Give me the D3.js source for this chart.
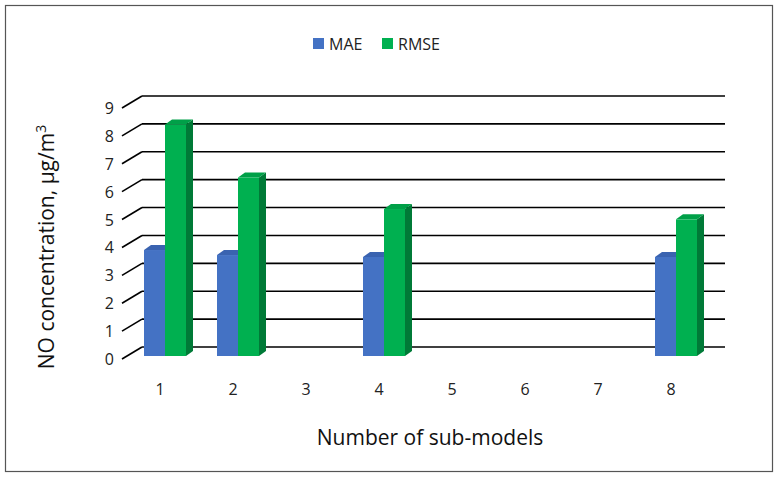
<!DOCTYPE html><html><head><meta charset="utf-8">
<script src="https://cdn.jsdelivr.net/npm/d3@7"></script>
<style>body{margin:0;background:#fff}</style></head><body>
<svg id="c" width="779" height="480"></svg>
<script>
const categories=["1","2","3","4","5","6","7","8"];
const seriesNames=["MAE","RMSE"];
const mae=[3.8,3.62,null,3.55,null,null,null,3.55];
const rmse=[8.3,6.4,null,5.27,null,null,null,4.9];
const yTicks=[0,1,2,3,4,5,6,7,8,9];
const colors={MAE:["#4472C4","#2F5597","#3A63B0"],RMSE:["#00B050","#007A37","#00A048"]};
const svg=d3.select("#c");
const font="'Open Sans', 'Liberation Sans', Arial, sans-serif";
svg.append("rect").attr("x",5.5).attr("y",5.5).attr("width",767).attr("height",466).attr("fill","#fff").attr("stroke","#555").attr("stroke-width",1.2);
const x=d3.scaleBand().domain(categories).range([123.5,707.5]);
const yBack=d3.scaleLinear().domain([0,9]).range([347,96]);
const yBar=d3.scaleLinear().domain([0,9]).range([356,105]);
const dx=20,dy=12;
const g=svg.append("g");
yTicks.forEach(t=>{
  const yy=yBack(t);
  g.append("line").attr("x1",142).attr("x2",725).attr("y1",yy).attr("y2",yy).attr("stroke","#000").attr("stroke-width",1.6);
  g.append("line").attr("x1",142).attr("x2",142-dx).attr("y1",yy).attr("y2",yy+dy).attr("stroke","#000").attr("stroke-width",1.6);
  g.append("text").attr("x",114).attr("y",yy+dy+6).attr("text-anchor","end").attr("font-family",font).attr("font-size",16).attr("fill","#222").text(t);
});
categories.forEach(c=>{
  g.append("text").attr("x",x(c)+x.bandwidth()/2).attr("y",395).attr("text-anchor","middle").attr("font-family",font).attr("font-size",16).attr("fill","#222").text(c);
});
const bw=21,bdx=7,bdy=5;
function bar(cx,v,col){
  if(v==null)return;
  const y0=yBar(0),y1=yBar(v);
  g.append("polygon").attr("points",`${cx+bw},${y1} ${cx+bw+bdx},${y1-bdy} ${cx+bw+bdx},${y0-bdy} ${cx+bw},${y0}`).attr("fill",col[1]);
  g.append("polygon").attr("points",`${cx},${y1} ${cx+bdx},${y1-bdy} ${cx+bw+bdx},${y1-bdy} ${cx+bw},${y1}`).attr("fill",col[2]);
  g.append("rect").attr("x",cx).attr("y",y1).attr("width",bw).attr("height",y0-y1).attr("fill",col[0]);
}
categories.forEach((c,i)=>{
  const cx=x(c)+x.bandwidth()/2;
  bar(cx-16,mae[i],colors.MAE);
  bar(cx+5,rmse[i],colors.RMSE);
});
const lx=[313,382];
seriesNames.forEach((s,i)=>{
  svg.append("rect").attr("x",lx[i]).attr("y",38).attr("width",11).attr("height",11).attr("fill",colors[s][0]);
  svg.append("text").attr("x",lx[i]+16).attr("y",50).attr("font-family",font).attr("font-size",16).attr("fill","#222").text(s);
});
svg.append("text").attr("x",430).attr("y",445).attr("text-anchor","middle").attr("font-family",font).attr("font-size",21).attr("fill","#111").text("Number of sub-models");
const yt=svg.append("text").attr("transform","translate(54,247) rotate(-90)").attr("text-anchor","middle").attr("font-family",font).attr("font-size",21).attr("fill","#111");
yt.append("tspan").text("NO concentration, μg/m");
yt.append("tspan").attr("dy",-8).attr("font-size",14).text("3");
</script></body></html>
